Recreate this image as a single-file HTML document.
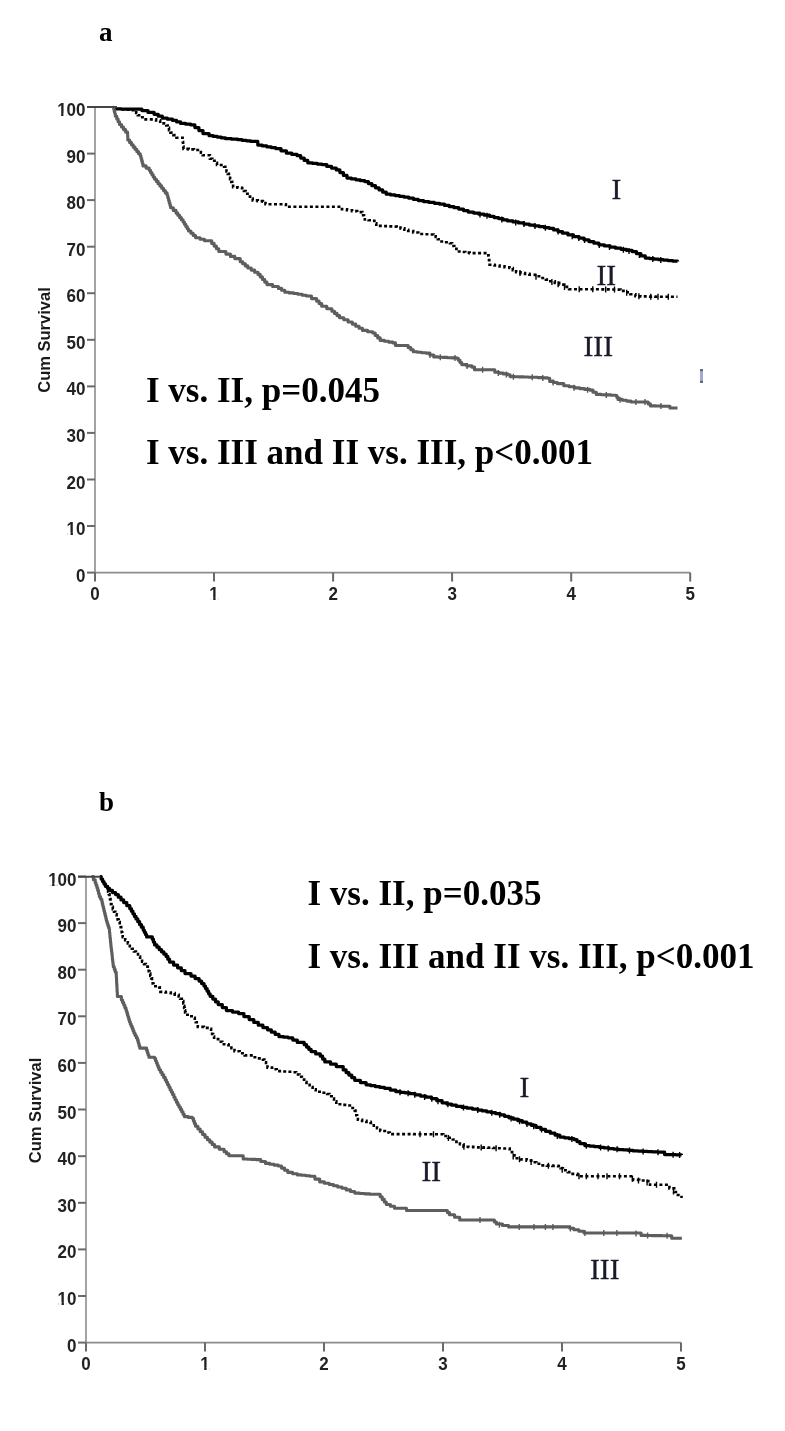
<!DOCTYPE html>
<html><head><meta charset="utf-8"><title>Survival curves</title>
<style>
html,body{margin:0;padding:0;background:#fff;width:785px;height:1431px;overflow:hidden}
svg{display:block}
.tl{font-family:"Liberation Sans",Arial,sans-serif;font-weight:bold;font-size:17px;fill:#222}
.at{font-family:"Liberation Sans",Arial,sans-serif;font-weight:bold;font-size:16.5px;fill:#1a1a1a}
.pl{font-family:"Liberation Serif","Times New Roman",serif;font-weight:bold;font-size:27px;fill:#000}
.cl{font-family:"Liberation Serif","Times New Roman",serif;font-size:29.5px;fill:#1a1a2a;stroke:#1a1a2a;stroke-width:0.3px}
.st{font-family:"Liberation Serif","Times New Roman",serif;font-weight:bold;font-size:35px;fill:#000}
</style></head><body>
<svg width="785" height="1431" viewBox="0 0 785 1431">
<rect width="785" height="1431" fill="#fff"/>
<text x="99" y="41" class="pl">a</text>
<text x="99" y="811" class="pl">b</text>
<path d="M95,107V572.6H690.2" stroke="#8c8c8c" stroke-width="1.6" fill="none"/>
<path d="M87,572.6H95" stroke="#6a6a6a" stroke-width="2" fill="none"/>
<path d="M87,526.0H95" stroke="#6a6a6a" stroke-width="2" fill="none"/>
<path d="M87,479.5H95" stroke="#6a6a6a" stroke-width="2" fill="none"/>
<path d="M87,432.9H95" stroke="#6a6a6a" stroke-width="2" fill="none"/>
<path d="M87,386.4H95" stroke="#6a6a6a" stroke-width="2" fill="none"/>
<path d="M87,339.8H95" stroke="#6a6a6a" stroke-width="2" fill="none"/>
<path d="M87,293.2H95" stroke="#6a6a6a" stroke-width="2" fill="none"/>
<path d="M87,246.7H95" stroke="#6a6a6a" stroke-width="2" fill="none"/>
<path d="M87,200.1H95" stroke="#6a6a6a" stroke-width="2" fill="none"/>
<path d="M87,153.6H95" stroke="#6a6a6a" stroke-width="2" fill="none"/>
<path d="M87,107.0H95" stroke="#6a6a6a" stroke-width="2" fill="none"/>
<path d="M95.0,572.6V581.6" stroke="#6a6a6a" stroke-width="2" fill="none"/>
<path d="M214.0,572.6V581.6" stroke="#6a6a6a" stroke-width="2" fill="none"/>
<path d="M333.1,572.6V581.6" stroke="#6a6a6a" stroke-width="2" fill="none"/>
<path d="M452.1,572.6V581.6" stroke="#6a6a6a" stroke-width="2" fill="none"/>
<path d="M571.2,572.6V581.6" stroke="#6a6a6a" stroke-width="2" fill="none"/>
<path d="M690.2,572.6V581.6" stroke="#6a6a6a" stroke-width="2" fill="none"/>
<g transform="translate(85.5,581.6) scale(1,1.05)"><text class="tl" text-anchor="end">0</text></g>
<g transform="translate(85.5,535.0) scale(1,1.05)"><text class="tl" text-anchor="end">10</text><rect x="-18.08" y="-2.6" width="3.14" height="2.9" fill="#fff"/><rect x="-12.61" y="-2.6" width="2.91" height="2.9" fill="#fff"/></g>
<g transform="translate(85.5,488.5) scale(1,1.05)"><text class="tl" text-anchor="end">20</text></g>
<g transform="translate(85.5,441.9) scale(1,1.05)"><text class="tl" text-anchor="end">30</text></g>
<g transform="translate(85.5,395.4) scale(1,1.05)"><text class="tl" text-anchor="end">40</text></g>
<g transform="translate(85.5,348.8) scale(1,1.05)"><text class="tl" text-anchor="end">50</text></g>
<g transform="translate(85.5,302.2) scale(1,1.05)"><text class="tl" text-anchor="end">60</text></g>
<g transform="translate(85.5,255.7) scale(1,1.05)"><text class="tl" text-anchor="end">70</text></g>
<g transform="translate(85.5,209.1) scale(1,1.05)"><text class="tl" text-anchor="end">80</text></g>
<g transform="translate(85.5,162.6) scale(1,1.05)"><text class="tl" text-anchor="end">90</text></g>
<g transform="translate(85.5,116.0) scale(1,1.05)"><text class="tl" text-anchor="end">100</text><rect x="-27.53" y="-2.6" width="3.14" height="2.9" fill="#fff"/><rect x="-22.06" y="-2.6" width="2.91" height="2.9" fill="#fff"/></g>
<g transform="translate(95.0,600.1) scale(1,1.05)"><text class="tl" text-anchor="middle">0</text></g>
<g transform="translate(214.0,600.1) scale(1,1.05)"><text class="tl" text-anchor="middle">1</text><rect x="-3.90" y="-2.6" width="3.14" height="2.9" fill="#fff"/><rect x="1.57" y="-2.6" width="2.91" height="2.9" fill="#fff"/></g>
<g transform="translate(333.1,600.1) scale(1,1.05)"><text class="tl" text-anchor="middle">2</text></g>
<g transform="translate(452.1,600.1) scale(1,1.05)"><text class="tl" text-anchor="middle">3</text></g>
<g transform="translate(571.2,600.1) scale(1,1.05)"><text class="tl" text-anchor="middle">4</text></g>
<g transform="translate(690.2,600.1) scale(1,1.05)"><text class="tl" text-anchor="middle">5</text></g>
<path d="M86,876.5V1342.6H681" stroke="#8c8c8c" stroke-width="1.6" fill="none"/>
<path d="M78,1342.6H86" stroke="#6a6a6a" stroke-width="2" fill="none"/>
<path d="M78,1296.0H86" stroke="#6a6a6a" stroke-width="2" fill="none"/>
<path d="M78,1249.4H86" stroke="#6a6a6a" stroke-width="2" fill="none"/>
<path d="M78,1202.8H86" stroke="#6a6a6a" stroke-width="2" fill="none"/>
<path d="M78,1156.2H86" stroke="#6a6a6a" stroke-width="2" fill="none"/>
<path d="M78,1109.5H86" stroke="#6a6a6a" stroke-width="2" fill="none"/>
<path d="M78,1062.9H86" stroke="#6a6a6a" stroke-width="2" fill="none"/>
<path d="M78,1016.3H86" stroke="#6a6a6a" stroke-width="2" fill="none"/>
<path d="M78,969.7H86" stroke="#6a6a6a" stroke-width="2" fill="none"/>
<path d="M78,923.1H86" stroke="#6a6a6a" stroke-width="2" fill="none"/>
<path d="M78,876.5H86" stroke="#6a6a6a" stroke-width="2" fill="none"/>
<path d="M86.0,1342.6V1351.6" stroke="#6a6a6a" stroke-width="2" fill="none"/>
<path d="M205.0,1342.6V1351.6" stroke="#6a6a6a" stroke-width="2" fill="none"/>
<path d="M324.0,1342.6V1351.6" stroke="#6a6a6a" stroke-width="2" fill="none"/>
<path d="M443.0,1342.6V1351.6" stroke="#6a6a6a" stroke-width="2" fill="none"/>
<path d="M562.0,1342.6V1351.6" stroke="#6a6a6a" stroke-width="2" fill="none"/>
<path d="M681.0,1342.6V1351.6" stroke="#6a6a6a" stroke-width="2" fill="none"/>
<g transform="translate(76.5,1351.6) scale(1,1.05)"><text class="tl" text-anchor="end">0</text></g>
<g transform="translate(76.5,1305.0) scale(1,1.05)"><text class="tl" text-anchor="end">10</text><rect x="-18.08" y="-2.6" width="3.14" height="2.9" fill="#fff"/><rect x="-12.61" y="-2.6" width="2.91" height="2.9" fill="#fff"/></g>
<g transform="translate(76.5,1258.4) scale(1,1.05)"><text class="tl" text-anchor="end">20</text></g>
<g transform="translate(76.5,1211.8) scale(1,1.05)"><text class="tl" text-anchor="end">30</text></g>
<g transform="translate(76.5,1165.2) scale(1,1.05)"><text class="tl" text-anchor="end">40</text></g>
<g transform="translate(76.5,1118.5) scale(1,1.05)"><text class="tl" text-anchor="end">50</text></g>
<g transform="translate(76.5,1071.9) scale(1,1.05)"><text class="tl" text-anchor="end">60</text></g>
<g transform="translate(76.5,1025.3) scale(1,1.05)"><text class="tl" text-anchor="end">70</text></g>
<g transform="translate(76.5,978.7) scale(1,1.05)"><text class="tl" text-anchor="end">80</text></g>
<g transform="translate(76.5,932.1) scale(1,1.05)"><text class="tl" text-anchor="end">90</text></g>
<g transform="translate(76.5,885.5) scale(1,1.05)"><text class="tl" text-anchor="end">100</text><rect x="-27.53" y="-2.6" width="3.14" height="2.9" fill="#fff"/><rect x="-22.06" y="-2.6" width="2.91" height="2.9" fill="#fff"/></g>
<g transform="translate(86.0,1370.1) scale(1,1.05)"><text class="tl" text-anchor="middle">0</text></g>
<g transform="translate(205.0,1370.1) scale(1,1.05)"><text class="tl" text-anchor="middle">1</text><rect x="-3.90" y="-2.6" width="3.14" height="2.9" fill="#fff"/><rect x="1.57" y="-2.6" width="2.91" height="2.9" fill="#fff"/></g>
<g transform="translate(324.0,1370.1) scale(1,1.05)"><text class="tl" text-anchor="middle">2</text></g>
<g transform="translate(443.0,1370.1) scale(1,1.05)"><text class="tl" text-anchor="middle">3</text></g>
<g transform="translate(562.0,1370.1) scale(1,1.05)"><text class="tl" text-anchor="middle">4</text></g>
<g transform="translate(681.0,1370.1) scale(1,1.05)"><text class="tl" text-anchor="middle">5</text></g>
<text transform="translate(49.5,340) rotate(-90)" class="at" text-anchor="middle">Cum Survival</text>
<text transform="translate(41,1110.5) rotate(-90)" class="at" text-anchor="middle">Cum Survival</text>
<path d="M121.5,109.2H125.9V109.6H130.3V110.1H134.7V110.5H136.2V112.9H137.8V115.3H140.9V117.3H143.9V119.4H150.0V119.4H156.1V120.4H160.2V123.4H166.3V125.5H167.7V127.9H169.0V130.2H170.4V132.6H173.4V135.1H176.5V137.7H182.6V139.7H182.8V142.0H183.1V144.3H183.3V146.6H183.5V148.9H188.7V149.4H194.0V150.0H199.2V150.5H200.9V152.8H202.7V155.2H209.9V158.7H212.3V160.8H214.6V162.9H217.0V165.0H224.1V166.8H225.3V169.2H226.5V171.5H227.7V173.9H228.9V176.6H230.1V179.2H231.3V181.9H232.2V184.6H233.1V187.3H237.6V187.8H242.0V188.2H243.9V191.0H245.7V193.8H247.6V196.6H250.1V198.5H252.7V200.4H257.8V201.1H262.9V201.7H265.5V204.2H270.6V204.2H275.7V204.2H280.8V204.2H285.9V206.8H291.0V206.8H296.1V206.8H301.2V206.8H306.3V206.8H311.4V206.8H316.4V206.8H321.5V206.8H326.6V206.8H331.7V206.8H336.8V206.8H341.9V209.3H347.0V210.2H352.1V211.1H357.2V212.1H362.3V213.1H363.1V215.2H364.0V217.4H364.8V219.5H368.6V220.2H372.5V220.8H374.4V223.4H376.3V225.9H381.8V226.1H387.4V226.4H392.9V226.6H396.7V227.5H400.5V228.4H404.4V229.7H408.2V231.0H413.2V232.5H418.3V234.0H423.4V234.3H428.5V234.5H433.6V234.8H435.7V237.0H437.8V239.3H439.9V241.5H444.9V242.3H449.9V243.2H452.1V246.0H454.3V248.7H456.5V251.5H460.9V252.0H465.3V252.6H469.7V253.1H474.3V253.1H478.9V253.1H483.4V253.1H488.0V253.1H488.3V255.4H488.6V257.7H489.0V260.1H489.3V262.4H489.6V264.7H494.6V265.5H499.6V266.4H504.5V267.2H509.5V268.0H512.8V270.1H516.1V272.3H520.5V273.1H525.0V273.9H529.4V274.7H534.9V276.3H540.4V278.0H545.9V279.6H550.3V281.3H554.8V282.9H559.2V284.6H564.2V286.9H569.1V289.2H574.1V289.2H579.0V289.2H584.0V289.2H589.0V289.2H594.3V289.3H599.6V289.4H604.9V289.4H610.2V289.5H615.5V289.6H620.5V290.9H625.4V292.2H630.4V294.2H635.4V296.2H640.4V296.4H645.3V296.5H650.2V296.6H655.2V296.8H660.8V296.8H666.4V296.8H671.9V296.8H677.5V296.8" fill="none" stroke="#000" stroke-width="2.6" stroke-dasharray="3 2.5"/>
<path d="M116.0,107.4V108.8H121.5V109.2H126.3V109.2H131.0V109.2H135.8V109.2H141.9V110.6H148.0V112.4H154.1V114.3H158.2V116.2H162.3V118.0H167.4V119.2H172.5V120.4H176.6V121.9H180.6V123.4H185.7V124.2H190.8V124.9H194.9V127.5H198.9V130.6H203.0V133.6H209.1V135.7H213.2V136.4H217.3V137.1H221.4V137.9H225.5V138.7H231.6V139.2H237.7V139.7H242.0V140.3H246.4V140.8H250.7V141.4H257.8V145.0H262.3V145.9H266.8V146.8H271.2V147.6H275.7V148.5H281.0V150.8H286.4V153.2H291.8V154.4H297.1V155.7H300.7V158.1H304.2V160.4H307.8V162.8H312.5V163.4H317.3V164.0H322.0V164.6H326.8V166.4H331.5V168.1H336.3V169.9H339.9V172.6H343.4V175.4H347.0V178.1H351.4V178.9H355.9V179.8H360.4V180.7H364.8V181.5H368.4V183.6H371.9V185.7H375.5V187.8H379.1V189.9H382.6V192.1H386.2V194.2H390.6V194.9H395.1V195.6H399.6V196.3H404.0V197.0H408.8V198.2H413.5V199.4H418.3V200.6H423.6V201.5H429.0V202.4H434.4V203.3H439.7V204.2H444.5V205.4H449.2V206.5H454.0V207.7H458.7V209.1H463.5V210.6H468.2V212.0H473.6V213.1H478.9V214.2H484.2V215.2H489.6V216.3H494.1V217.5H498.6V218.6H503.0V219.8H507.5V220.9H513.0V221.9H518.5V222.9H523.9V224.0H529.4V225.0H534.4V225.8H539.3V226.7H544.2V227.5H549.2V228.3H553.6V229.9H558.1V231.6H562.5V233.2H568.0V234.9H573.5V236.5H579.0V238.2H584.0V239.8H589.0V241.5H593.9V243.2H598.9V244.8H604.4V245.9H610.0V247.1H615.5V248.2H621.0V249.3H626.6V250.4H632.1V251.5H636.5V253.7H640.9V255.9H645.3V258.1H649.7V258.6H654.2V259.2H658.6V259.7H663.3V260.1H668.0V260.5H672.8V261.0H677.5V261.4" fill="none" stroke="#000" stroke-width="3.25" stroke-linejoin="round"/>
<path d="M113.3,107.2H113.8V109.5H114.3V111.8H114.9V114.0H115.4V116.3H116.8V119.0H118.1V121.8H119.5V124.5H121.5V127.0H123.5V129.6H125.6V132.1H127.6V134.7H127.7V137.3H127.8V140.0H129.6V142.4H131.4V144.7H133.2V147.1H135.0V149.3H136.8V151.6H138.5V153.8H140.3V156.0H141.0V158.5H141.7V160.9H142.3V163.4H143.0V165.9H146.1V168.1H149.2V170.3H150.5V172.5H151.9V174.8H153.2V177.0H154.6V179.2H156.4V181.4H158.1V183.7H159.9V185.9H161.7V188.2H163.5V190.6H165.3V192.9H167.1V195.3H167.8V197.8H168.5V200.3H169.2V202.8H169.9V205.3H170.6V207.8H173.3V210.4H176.0V213.1H177.8V215.3H179.6V217.6H181.3V219.8H183.1V222.0H184.4V224.2H185.8V226.5H187.2V228.8H188.5V231.0H190.9V233.2H193.2V235.5H195.6V237.7H200.1V239.2H204.5V240.8H211.7V243.4H214.1V246.1H216.4V248.8H218.8V251.5H225.9V254.1H230.4V256.4H234.8V258.6H240.2V261.7H242.7V263.8H245.3V265.9H247.8V268.0H251.2V270.1H254.6V272.3H258.0V274.4H260.2V276.9H262.4V279.5H264.7V282.1H266.9V284.6H272.6V286.5H278.4V288.4H281.6V290.3H284.8V292.2H289.2V292.9H293.7V293.5H297.9V294.3H302.2V295.2H306.4V296.0H311.5V298.6H316.6V301.1H319.1V303.6H321.7V306.2H326.8V308.8H331.9V311.3H334.5V313.4H337.0V315.6H339.6V317.7H343.8V319.8H348.1V322.0H352.3V324.1H355.7V326.2H359.1V328.3H362.5V330.4H367.6V331.7H372.7V333.0H375.2V335.5H377.7V337.9H380.2V340.4H384.4V341.2H388.7V342.1H392.9V342.9H395.5V345.5H400.6V345.5H405.7V345.5H408.2V347.6H410.8V349.7H413.3V351.8H417.5V352.2H421.8V352.7H426.0V353.1H429.9V355.0H433.7V356.9H438.3V357.2H442.9V357.4H447.4V357.7H452.0V357.9H456.6V358.2H458.3V360.3H460.0V362.5H461.7V364.6H466.8V365.9H471.9V367.1H474.5V369.7H479.6V369.7H484.6V369.7H489.7V369.7H494.8V372.2H499.1V373.1H503.3V373.9H507.6V374.8H510.1V376.6H514.7V376.7H519.3V376.9H523.9V377.0H528.5V377.2H533.1V377.3H537.9V377.6H542.8V377.9H547.6V378.2H549.7V381.4H553.5V382.5H557.3V383.6H563.8V385.7H569.2V386.8H574.6V387.9H579.7V388.6H584.7V389.4H589.8V390.1H593.0V392.2H596.3V394.4H601.2V394.7H606.0V394.9H610.9V395.2H615.8V395.5H616.9V397.4H618.0V399.4H622.3V400.3H626.7V401.1H631.0V402.0H636.0V402.0H641.1V402.0H646.1V402.0H648.2V403.9H650.4V405.9H656.2V406.0H662.0V406.2H667.8V406.3H669.9V408.0H673.7V408.0H677.5V408.0" fill="none" stroke="#5e5e5e" stroke-width="3.1" stroke-linejoin="round"/>
<path d="M480.0,211.4v6.0M487.0,212.8v6.0M501.8,216.4v6.0M515.7,219.4v6.0M524.0,221.0v6.0M535.0,222.9v6.0M545.4,224.7v6.0M558.1,228.6v6.0M572.2,233.2v6.0M578.8,235.1v6.0M584.6,237.1v6.0M599.3,241.9v6.0M609.5,244.0v6.0M623.4,246.8v6.0M629.0,247.9v6.0M639.4,252.1v6.0M652.8,256.0v6.0M660.8,256.9v6.0" stroke="#000" stroke-width="1.4" fill="none"/>
<path d="M520.0,270.0v6.0M536.0,273.7v6.0M551.9,278.9v6.0M558.1,281.2v6.0M564.5,284.1v6.0M579.2,286.2v6.0M592.8,286.3v6.0M605.7,286.5v6.0M614.5,286.6v6.0M626.7,289.7v6.0M638.9,293.3v6.0M650.8,293.7v6.0M658.0,293.8v6.0M668.3,293.8v6.0" stroke="#000" stroke-width="1.4" fill="none"/>
<path d="M430.0,352.1v6.0M440.3,354.3v6.0M455.0,355.1v6.0M467.1,362.9v6.0M482.6,366.7v6.0M498.3,369.9v6.0M506.3,371.5v6.0M513.4,373.7v6.0M532.2,374.3v6.0M542.8,374.9v6.0M553.1,379.4v6.0M574.0,384.8v6.0M587.6,386.8v6.0M606.3,392.0v6.0M620.0,396.8v6.0M635.9,399.0v6.0M645.0,399.0v6.0M660.9,403.1v6.0" stroke="#5a5a5a" stroke-width="1.4" fill="none"/>
<path d="M105.4,886.3H107.4V889.4H108.1V891.8H108.8V894.1H109.5V896.5H110.0V899.0H110.5V901.6H111.0V904.2H111.5V906.7H112.8V909.2H114.0V911.8H115.3V914.4H116.6V916.9H117.6V919.5H118.7V922.0H119.7V924.5H120.7V927.1H121.2V929.6H121.7V932.2H122.2V934.8H122.7V937.3H125.2V940.3H127.8V943.4H129.8V946.1H131.9V948.8H133.9V951.5H135.9V954.0H138.0V956.6H140.1V959.2H142.1V961.7H144.0V964.1H145.9V966.6H147.8V969.0H148.7V971.3H149.5V973.6H150.3V975.9H151.2V978.2H152.0V980.9H152.7V983.5H153.5V986.2H159.2V987.3H159.8V989.6H160.4V991.9H165.6V992.5H170.7V993.1H174.7V994.8H178.7V996.5H180.2V998.8H181.8V1001.1H183.3V1003.4H183.8V1005.7H184.2V1007.9H184.7V1010.2H185.1V1012.4H185.6V1014.7H189.7V1016.2H193.8V1017.7H194.8V1020.0H195.8V1022.3H196.8V1024.6H197.8V1026.9H203.9V1027.9H210.1V1028.9H211.1V1031.5H212.1V1034.0H213.1V1036.5H214.1V1039.1H218.2V1041.7H222.3V1044.2H228.4V1045.2H231.4V1048.2H234.5V1051.3H239.6V1053.3H244.7V1055.4H251.5V1057.3H257.2V1058.4H262.9V1059.6H264.4V1062.3H266.0V1064.9H267.5V1067.6H272.1V1069.3H276.7V1071.1H282.0V1071.5H287.4V1071.8H292.7V1072.2H296.1V1074.5H299.6V1076.8H301.9V1079.5H304.2V1082.1H306.5V1084.8H309.6V1087.1H312.6V1089.4H315.7V1091.7H321.4V1092.8H327.1V1094.0H329.4V1096.3H331.7V1098.6H334.0V1101.4H336.3V1104.3H342.1V1104.9H347.8V1105.5H351.2V1108.0H354.7V1110.5H355.5V1112.8H356.3V1115.2H357.1V1117.5H357.9V1119.8H362.1V1120.9H366.4V1121.9H370.6V1123.0H373.8V1125.7H377.0V1128.3H380.2V1131.0H384.9V1132.5H389.7V1134.1H394.6V1134.1H399.5V1134.1H404.3V1134.1H409.2V1134.1H414.1V1134.2H419.0V1134.2H423.9V1134.2H428.7V1134.2H433.6V1134.2H438.5V1134.2H443.3V1136.0H448.0V1137.7H452.8V1139.5H456.4V1141.9H459.9V1144.3H463.5V1146.7H468.4V1146.9H473.3V1147.2H478.2V1147.4H483.1V1147.6H488.0V1147.8H492.9V1148.0H497.8V1148.3H502.7V1148.5H509.7V1152.1H512.1V1155.2H514.5V1158.2H520.5V1159.4H526.6V1160.6H531.4V1162.2H536.3V1163.8H541.1V1165.4H546.8V1165.6H552.4V1165.9H558.1V1166.1H560.5V1168.2H562.9V1170.3H567.8V1172.1H572.6V1173.9H577.4V1176.3H582.2V1176.3H587.1V1176.3H591.9V1176.3H596.8V1176.3H601.6V1176.3H606.5V1176.3H611.3V1176.3H616.2V1176.3H621.0V1176.3H625.9V1176.3H630.7V1176.3H633.1V1179.9H639.2V1180.5H645.2V1181.1H650.0V1184.8H654.9V1184.8H659.7V1184.8H664.6V1184.8H669.4V1188.4H674.2V1192.0H677.9V1195.0H681.5V1198.1" fill="none" stroke="#000" stroke-width="2.6" stroke-dasharray="3 2.5"/>
<path d="M99.8,876.7H101.2V879.1H102.6V881.5H104.0V883.9H105.4V886.3H107.5V888.3H109.5V890.4H112.5V892.5H115.6V894.5H118.3V897.2H121.0V899.9H123.7V902.6H126.8V905.7H129.8V908.7H131.4V911.2H132.9V913.8H134.4V916.4H136.0V918.9H137.8V921.7H139.6V924.5H141.4V927.2H143.2V930.0H144.3V932.3H145.5V934.6H146.6V936.9H152.3V939.2H153.4V942.0H154.6V944.9H156.9V947.2H159.2V949.5H161.5V951.8H163.8V954.1H166.1V956.4H167.8V959.2H169.5V962.1H173.6V965.0H177.6V967.8H181.3V970.7H185.0V973.6H191.0V976.0H195.1V978.5H199.1V981.1H201.6V983.6H204.0V986.1H205.5V988.6H207.1V991.2H208.6V993.8H210.1V996.3H212.8V999.0H215.5V1001.8H218.2V1004.5H222.3V1007.5H226.4V1010.6H232.5V1012.1H238.6V1013.6H243.9V1016.5H249.2V1019.5H253.8V1022.4H258.3V1025.2H262.9V1027.5H267.5V1029.8H271.3V1032.1H275.2V1034.4H279.0V1036.7H283.6V1037.2H288.2V1037.8H292.8V1040.1H297.3V1042.4H304.2V1044.7H306.5V1047.0H308.8V1049.3H311.1V1051.6H315.7V1053.9H320.3V1056.2H322.6V1059.1H324.8V1061.9H330.6V1064.2H336.3V1066.5H343.2V1069.9H346.1V1072.5H348.9V1075.1H351.8V1077.7H354.7V1080.3H360.4V1082.5H366.1V1084.8H370.7V1085.7H375.3V1086.5H379.9V1087.4H384.5V1088.3H390.2V1090.0H395.9V1091.7H400.5V1092.3H405.1V1092.9H409.7V1093.5H415.1V1094.8H420.5V1096.0H426.0V1097.2H431.4V1098.5H436.8V1100.7H442.1V1102.8H446.9V1104.0H451.6V1105.2H456.4V1106.4H461.8V1107.3H467.1V1108.2H472.4V1109.1H477.8V1110.0H482.2V1110.9H486.7V1111.8H491.2V1112.6H495.6V1113.5H500.1V1114.9H504.5V1116.3H508.9V1117.8H513.4V1119.2H517.9V1120.7H522.3V1122.2H526.8V1123.8H531.3V1125.3H536.0V1127.3H540.8V1129.3H545.5V1131.3H550.3V1133.2H555.0V1135.1H559.8V1137.0H564.5V1137.8H569.3V1138.7H574.0V1139.5H577.0V1141.5H579.9V1143.6H584.8V1145.5H589.6V1146.1H594.4V1146.7H599.3V1147.3H604.1V1147.9H608.9V1148.5H613.7V1149.0H618.6V1149.5H623.4V1149.9H628.3V1150.4H633.1V1150.9H637.9V1151.1H642.8V1151.4H647.6V1151.6H652.5V1151.9H657.3V1152.1H664.6V1154.5H670.2V1154.7H675.9V1154.8H681.5V1155.0" fill="none" stroke="#000" stroke-width="3.25" stroke-linejoin="round"/>
<path d="M91.6,876.6H93.4V879.7H95.2V882.7H96.0V885.3H96.9V887.8H97.7V890.4H98.5V893.5H99.3V896.5H100.5V899.0H101.8V901.6H102.3V903.9H102.8V906.2H103.4V908.5H103.9V910.8H104.5V913.3H105.2V915.9H105.8V918.5H106.4V921.0H107.1V923.2H107.8V925.5H108.6V927.8H109.3V930.0H109.5V932.5H109.8V934.9H110.0V937.4H110.3V939.8H110.5V942.3H110.8V944.7H111.0V947.2H111.3V949.6H111.6V952.1H111.9V954.5H112.2V957.0H112.4V959.4H112.7V961.8H113.0V964.3H113.3V966.7H114.3V969.4H115.2V972.0H116.2V974.7H116.3V977.1H116.5V979.5H116.6V982.0H116.7V984.4H116.9V986.8H117.0V989.2H117.1V991.7H117.3V994.1H117.4V996.5H121.4V1000.0H122.6V1002.6H123.7V1005.1H124.8V1007.7H126.0V1010.3H126.7V1012.6H127.4V1014.9H128.0V1017.1H128.7V1019.4H129.4V1021.7H130.3V1024.0H131.2V1026.3H132.2V1028.6H133.1V1030.9H134.0V1033.2H135.1V1035.5H136.3V1037.8H137.4V1040.1H138.2V1042.8H138.9V1045.4H139.7V1048.1H146.6V1050.4H147.4V1052.7H148.1V1055.0H148.9V1057.3H154.6V1058.4H155.5V1060.7H156.4V1062.9H157.3V1065.2H158.2V1067.4H159.1V1069.7H160.6V1072.2H162.1V1074.8H163.7V1077.4H165.2V1079.9H166.4V1082.3H167.6V1084.8H168.9V1087.2H170.1V1089.7H171.3V1092.1H172.6V1094.6H173.9V1097.2H175.1V1099.8H176.4V1102.3H177.7V1104.7H179.0V1107.1H180.4V1109.4H181.7V1111.8H183.0V1114.2H184.3V1116.6H188.3V1117.4H192.3V1118.2H193.4V1120.9H194.4V1123.5H195.5V1126.2H197.9V1129.0H200.2V1131.8H202.6V1134.5H205.0V1137.3H207.4V1139.7H209.8V1142.1H212.2V1144.5H214.6V1146.9H219.3V1149.3H224.1V1151.7H226.5V1153.8H228.9V1155.8H233.7V1155.8H238.5V1155.8H243.2V1159.0H247.5V1159.2H251.7V1159.4H256.0V1159.6H260.8V1161.5H265.5V1163.4H269.8V1164.3H274.0V1165.1H278.3V1166.0H281.5V1168.1H284.6V1170.3H287.8V1172.4H292.6V1173.7H297.4V1174.9H301.6V1175.3H305.9V1175.8H310.1V1176.2H314.9V1179.1H319.7V1181.9H324.4V1183.2H329.2V1184.5H333.5V1185.8H337.7V1187.0H342.0V1188.3H346.2V1189.9H350.5V1191.5H354.7V1193.1H359.8V1193.5H364.9V1193.9H370.0V1194.3H374.1V1194.3H378.2V1194.3H380.2V1196.8H382.2V1199.4H384.3V1202.0H386.3V1204.5H390.4V1206.3H394.5V1208.2H399.8V1208.2H405.0V1208.2H406.5V1210.5H411.4V1210.5H416.2V1210.5H421.1V1210.5H425.9V1210.5H430.8V1210.5H435.7V1210.5H440.5V1210.5H445.4V1210.5H447.4V1212.6H449.5V1214.7H454.6V1217.3H459.7V1220.0H464.4V1220.0H469.0V1220.0H473.7V1220.0H478.3V1220.0H483.0V1220.0H487.6V1220.0H492.3V1220.0H494.4V1222.0H496.4V1224.0H502.5V1225.5H508.6V1226.9H513.8V1226.9H519.0V1226.9H524.2V1226.9H529.4V1226.9H534.6V1226.9H539.7V1226.9H544.9V1226.9H550.1V1226.9H555.3V1226.9H560.5V1226.9H565.7V1226.9H569.8V1228.3H573.8V1229.7H578.9V1231.3H584.0V1233.0H589.1V1233.0H594.2V1233.0H599.3V1233.0H604.4V1233.0H609.5V1233.0H614.6V1233.0H619.7V1233.0H624.8V1233.0H629.9V1233.0H635.0V1233.0H641.1V1235.4H646.4V1235.5H651.7V1235.6H657.0V1235.6H662.3V1235.7H667.6V1235.8H671.7V1238.3H676.8V1238.3H681.9V1238.3" fill="none" stroke="#5e5e5e" stroke-width="3.1" stroke-linejoin="round"/>
<path d="M400.0,1089.2v6.0M408.1,1090.3v6.0M414.7,1091.7v6.0M424.6,1093.9v6.0M431.8,1095.7v6.0M438.0,1098.2v6.0M447.9,1101.3v6.0M463.5,1104.6v6.0M477.8,1107.0v6.0M491.8,1109.7v6.0M499.7,1111.8v6.0M511.1,1115.5v6.0M519.6,1118.3v6.0M527.0,1120.9v6.0M533.7,1123.3v6.0M541.6,1126.6v6.0M557.3,1133.0v6.0M571.9,1136.1v6.0M586.3,1142.7v6.0M600.6,1144.5v6.0M608.2,1145.4v6.0M617.1,1146.3v6.0M629.5,1147.5v6.0M643.1,1148.4v6.0M658.0,1149.3v6.0M673.1,1151.8v6.0M679.6,1151.9v6.0" stroke="#000" stroke-width="1.4" fill="none"/>
<path d="M420.0,1131.2v6.0M433.5,1131.2v6.0M448.4,1134.9v6.0M463.9,1143.7v6.0M481.2,1144.5v6.0M496.1,1145.2v6.0M513.2,1153.5v6.0M519.5,1156.2v6.0M531.1,1159.1v6.0M548.4,1162.7v6.0M562.2,1166.7v6.0M579.0,1173.3v6.0M586.4,1173.3v6.0M598.0,1173.3v6.0M607.0,1173.3v6.0M619.5,1173.3v6.0M632.4,1175.8v6.0M638.5,1177.4v6.0M647.1,1179.6v6.0M656.5,1181.8v6.0M673.5,1188.5v6.0" stroke="#000" stroke-width="1.4" fill="none"/>
<path d="M480.0,1217.0v6.0M499.4,1221.7v6.0M519.2,1223.9v6.0M534.0,1223.9v6.0M545.4,1223.9v6.0M552.9,1223.9v6.0M570.4,1225.5v6.0M584.9,1230.0v6.0M603.8,1230.0v6.0M616.9,1230.0v6.0M636.0,1230.4v6.0M647.6,1232.5v6.0M667.1,1232.8v6.0" stroke="#5a5a5a" stroke-width="1.4" fill="none"/>
<path d="M87,107.1H117M78,876.7H100.5" stroke="#454545" stroke-width="2" fill="none"/>
<text x="611.5" y="199" class="cl">I</text>
<text x="596.5" y="284.5" class="cl">II</text>
<text x="583.5" y="355.5" class="cl">III</text>
<text x="519.5" y="1096.5" class="cl">I</text>
<text x="421.5" y="1181" class="cl">II</text>
<text x="590" y="1278.5" class="cl">III</text>
<text x="146" y="402" class="st">I vs. II, p=0.045</text>
<text x="146" y="464" class="st">I vs. III and II vs. III, p&lt;0.001</text>
<text x="307.5" y="905" class="st">I vs. II, p=0.035</text>
<text x="307.5" y="968" class="st">I vs. III and II vs. III, p&lt;0.001</text>
<rect x="700" y="369" width="3" height="14" fill="#a3acd0"/><rect x="700.2" y="369" width="2.6" height="2.2" fill="#5b6275"/><rect x="700.2" y="380.8" width="2.6" height="2.2" fill="#5b6275"/>
</svg>
</body></html>
